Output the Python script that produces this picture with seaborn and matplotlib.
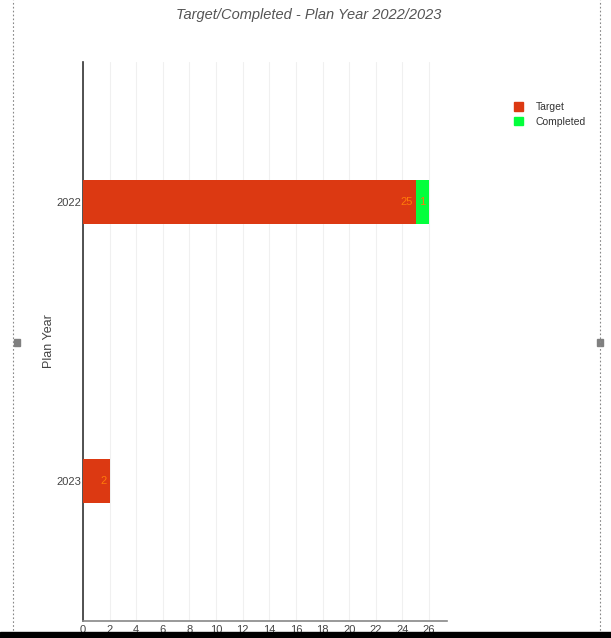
import matplotlib
matplotlib.use("Agg")
import matplotlib.pyplot as plt
import seaborn as sns
import pandas as pd

# Chart data
plan_years = ["2022", "2023"]
target = [25, 2]
completed = [1, 0]
x_ticks = list(range(0, 27, 2))

TARGET_COLOR = "#dc3912"
COMPLETED_COLOR = "#03ff3c"
LABEL_COLOR = "#ff7a0a"

df = pd.DataFrame({"Plan Year": plan_years, "Target": target, "Completed": completed})
df["Total"] = df["Target"] + df["Completed"]

sns.set_style("white")
plt.rcParams["font.family"] = ["Arial", "Liberation Sans", "DejaVu Sans"]

fig = plt.figure(figsize=(6.11, 6.38), dpi=100)
ax = fig.add_axes([0.1358, 0.0266, 0.5958, 0.8762])

# stacked bars: total (completed on top) first, then target over it
sns.barplot(data=df, x="Total", y="Plan Year", order=plan_years, orient="h",
            color=COMPLETED_COLOR, width=0.158, saturation=1, linewidth=0,
            ax=ax, zorder=3)
sns.barplot(data=df, x="Target", y="Plan Year", order=plan_years, orient="h",
            color=TARGET_COLOR, width=0.158, saturation=1, linewidth=0,
            ax=ax, zorder=3)

# value labels
for i, row in df.iterrows():
    ax.text(row["Target"] - 0.25, i, str(row["Target"]), ha="right", va="center",
            color=LABEL_COLOR, fontsize=8, zorder=4)
    if row["Completed"] > 0:
        ax.text(row["Target"] + row["Completed"] / 2, i, str(row["Completed"]),
                ha="center", va="center", color=LABEL_COLOR, fontsize=8, zorder=4)

ax.set_xlim(0, 27.35)
ax.set_ylim(1.5, -0.5)
ax.set_xticks(x_ticks)
ax.tick_params(axis="both", length=0, labelsize=8, colors="#444444", pad=3)
ax.tick_params(axis="y", pad=1.5)
ax.grid(axis="x", color="#f0f0f0", linewidth=0.8, zorder=0)
ax.set_axisbelow(True)
ax.set_xlabel("")
ax.set_ylabel("Plan Year", fontsize=9, color="#444444", labelpad=0)
ax.yaxis.set_label_coords(-0.076, 0.5)

for side in ["top", "right"]:
    ax.spines[side].set_visible(False)
ax.spines["left"].set_color("#333333")
ax.spines["left"].set_linewidth(1.2)
ax.spines["bottom"].set_color("#888888")
ax.spines["bottom"].set_linewidth(1.2)

fig.text(0.505, 0.976, "Target/Completed - Plan Year 2022/2023", ha="center",
         va="center", fontsize=10.5, style="italic", color="#555555")

# legend outside plot, top right
handles = [plt.Rectangle((0, 0), 1, 1, color=TARGET_COLOR),
           plt.Rectangle((0, 0), 1, 1, color=COMPLETED_COLOR)]
fig.legend(handles, ["Target", "Completed"], loc="upper left",
           bbox_to_anchor=(0.826, 0.855), frameon=False, fontsize=7.5,
           handlelength=0.9, handleheight=0.9, handletextpad=1.2,
           labelspacing=0.45, labelcolor="#333333")

# page decorations: dotted side borders, handles and the black bottom strip
for xf in [13 / 611, 600 / 611]:
    fig.add_artist(plt.Line2D([xf, xf], [0, 1], transform=fig.transFigure,
                              color="#888888", linestyle=(0, (1.5, 2)), linewidth=0.8))
for xf in [14 / 611, 597 / 611]:
    fig.add_artist(plt.Rectangle((xf, 1 - 346 / 638), 6 / 611, 7 / 638,
                                 transform=fig.transFigure, color="#808080"))
fig.add_artist(plt.Rectangle((0, 0), 1, 6 / 638, transform=fig.transFigure,
                             color="black", zorder=10))

fig.savefig("out.png", dpi=100)
